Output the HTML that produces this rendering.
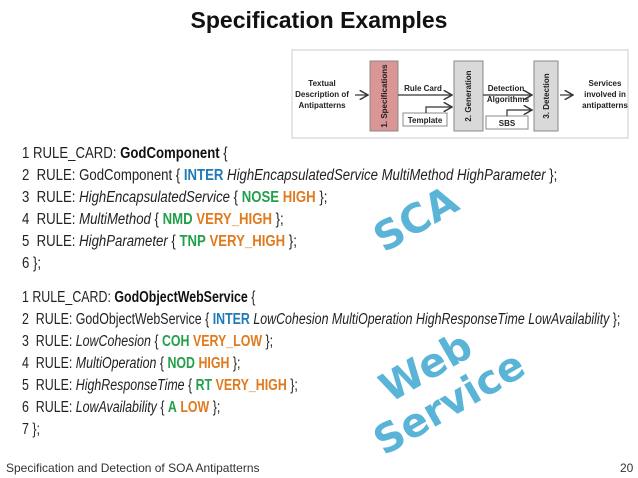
<!DOCTYPE html>
<html><head><meta charset="utf-8"><style>
body{margin:0;width:638px;height:478px;background:#fff;position:relative;overflow:hidden;font-family:"Liberation Sans",sans-serif;color:#222}
.t{position:absolute;left:0;width:638px;text-align:center;top:7px;font-size:23px;font-weight:bold;color:#111}
.code{position:absolute;left:22px;font-size:15.5px;transform:scaleX(0.85);transform-origin:0 0;white-space:pre;line-height:22px}
.b{color:#1f7ab8;font-weight:bold}.g{color:#22a04b;font-weight:bold}.o{color:#e07a1f;font-weight:bold}
.k{font-weight:bold;color:#111}
.wm{position:absolute;color:#5ab4d8;font-weight:bold;font-family:"DejaVu Sans",sans-serif;transform-origin:0 0}
.foot{position:absolute;top:461px;font-size:12px;color:#333}
</style></head><body>
<div class="t">Specification Examples</div>
<svg style="position:absolute;left:0;top:0" width="638" height="478">
<defs><marker id="a" markerWidth="8" markerHeight="8" refX="7" refY="4" orient="auto"><path d="M0,0 L7,4 L0,8" fill="none" stroke="#333" stroke-width="1.2"/></marker></defs>
<rect x="292" y="50" width="336" height="88" fill="#fff" stroke="#ccc"/>
<rect x="370" y="61" width="28" height="70" fill="#d99694" stroke="#888"/>
<rect x="454" y="61" width="29" height="70" fill="#d9d9d9" stroke="#888"/>
<rect x="534" y="61" width="24" height="70" fill="#d9d9d9" stroke="#888"/>
<rect x="403" y="113" width="44" height="13" fill="#fff" stroke="#888"/>
<rect x="486" y="116" width="42" height="13" fill="#fff" stroke="#888"/>
<g stroke="#333" stroke-width="1.2" fill="none" marker-end="url(#a)">
<line x1="355" y1="95" x2="368" y2="95"/>
<line x1="398" y1="95" x2="452" y2="95"/>
<polyline points="426,113 426,107 452,107"/>
<line x1="483" y1="95" x2="532" y2="95"/>
<polyline points="507,116 507,110 532,110"/>
<line x1="560" y1="95" x2="573" y2="95"/>
</g>
<g font-family="Liberation Sans" font-weight="bold" font-size="8" fill="#222" text-anchor="middle">
<text x="322" y="86">Textual</text><text x="322" y="97">Description of</text><text x="322" y="108">Antipatterns</text>
<text x="423" y="91">Rule Card</text>
<text x="506" y="91">Detection</text><text x="508" y="102">Algorithms</text>
<text x="605" y="86">Services</text><text x="605" y="97">involved in</text><text x="605" y="108">antipatterns</text>
<text x="425" y="123">Template</text><text x="507" y="126">SBS</text>
<text transform="translate(387,96) rotate(-90)">1. Specifications</text>
<text transform="translate(471,96) rotate(-90)">2. Generation</text>
<text transform="translate(549,96) rotate(-90)">3. Detection</text>
</g>
</svg>
<div class="code" style="top:143px">1 RULE_CARD: <span class="k">GodComponent</span> {
2  RULE: GodComponent { <span class="b">INTER</span> <i>HighEncapsulatedService MultiMethod HighParameter</i> };
3  RULE: <i>HighEncapsulatedService</i> { <span class="g">NOSE</span> <span class="o">HIGH</span> };
4  RULE: <i>MultiMethod</i> { <span class="g">NMD</span> <span class="o">VERY_HIGH</span> };
5  RULE: <i>HighParameter</i> { <span class="g">TNP</span> <span class="o">VERY_HIGH</span> };
6 };</div>
<div class="code" style="top:287px;transform:scaleX(0.8)">1 RULE_CARD: <span class="k">GodObjectWebService</span> {
2  RULE: GodObjectWebService { <span class="b">INTER</span> <i>LowCohesion MultiOperation HighResponseTime LowAvailability</i> };
3  RULE: <i>LowCohesion</i> { <span class="g">COH</span> <span class="o">VERY_LOW</span> };
4  RULE: <i>MultiOperation</i> { <span class="g">NOD</span> <span class="o">HIGH</span> };
5  RULE: <i>HighResponseTime</i> { <span class="g">RT</span> <span class="o">VERY_HIGH</span> };
6  RULE: <i>LowAvailability</i> { <span class="g">A</span> <span class="o">LOW</span> };
7 };</div>
<div class="wm" style="left:366px;top:222px;font-size:40px;transform:rotate(-30deg)">SCA</div>
<div class="wm" style="left:372px;top:372px;font-size:40px;transform:rotate(-30deg)">Web</div>
<div class="wm" style="left:366px;top:425px;font-size:40px;transform:rotate(-30deg)">Service</div>
<div class="foot" style="left:6px">Specification and Detection of SOA Antipatterns</div>
<div class="foot" style="left:620px">20</div>
</body></html>
